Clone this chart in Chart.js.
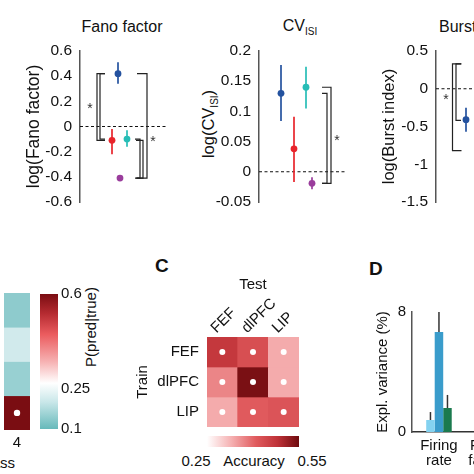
<!DOCTYPE html>
<html>
<head>
<meta charset="utf-8">
<script src="https://cdn.jsdelivr.net/npm/chart.js@4.4.1/dist/chart.umd.min.js"></script>
<style>
html, body { margin: 0; padding: 0; width: 474px; height: 474px; overflow: hidden; background: #fff; }
body { position: relative; font-family: "Liberation Sans", Arial, sans-serif; color: #111; }
canvas { position: absolute; }
.txt { position: absolute; white-space: nowrap; line-height: 1; transform: translate(-50%, -50%); }
.rot { transform: translate(-50%, -50%) rotate(-90deg); }
.panel { position: absolute; font-weight: bold; font-size: 19px; line-height: 1; }
sub { font-size: 10px; vertical-align: -4px; }
</style>
</head>
<body>

<div class="txt" style="left:122px;top:27px;font-size:16px">Fano factor</div>
<div class="txt" style="left:300px;top:27px;font-size:16px">CV<sub>ISI</sub></div>
<div class="txt" style="left:439px;top:27px;font-size:16px;transform:translate(0,-50%)">Burst index</div>
<div class="txt rot" style="left:210px;top:124px;font-size:16.5px">log(CV<sub>ISI</sub>)</div>

<div class="txt rot" style="left:90px;top:327px;font-size:15px">P(pred|true)</div>
<div class="txt" style="left:15px;top:462px;font-size:15px;transform:translate(-100%,-50%)">Predicted class</div>

<div class="panel" style="left:155px;top:256px">C</div>
<div class="txt" style="left:196px;top:460px;font-size:15px">0.25</div>
<div class="txt" style="left:254px;top:460px;font-size:15px">Accuracy</div>
<div class="txt" style="left:312px;top:460px;font-size:15px">0.55</div>

<div class="panel" style="left:369px;top:259px">D</div>

<canvas id="fano" width="180" height="187" style="left:0;top:33px"></canvas>
<canvas id="cv" width="180" height="187" style="left:180px;top:33px"></canvas>
<canvas id="burst" width="180" height="187" style="left:356px;top:33px"></canvas>
<canvas id="classMap" width="40" height="191" style="left:0;top:283px"></canvas>
<canvas id="probBar" width="100" height="191" style="left:30px;top:282px"></canvas>
<canvas id="accMap" width="220" height="200" style="left:125px;top:270px"></canvas>
<canvas id="accBar" width="110" height="22" style="left:200px;top:430px"></canvas>
<canvas id="variance" width="180" height="184" style="left:350px;top:290px"></canvas>

<script>
// point groups: blue, red, cyan, purple
const groupColors = ['#24529f', '#e8242b', '#27bdb6', '#9a3d9c'];

// Fano factor panel
const fanoX = [3.8, 3.2, 4.7, 4.0];
const fanoMean = [0.42, -0.11, -0.10, -0.41];
const fanoLow = [0.34, -0.22, -0.16, -0.42];
const fanoHigh = [0.51, -0.02, -0.03, -0.40];
const fanoBrackets = [[1.7, 0.42, -0.11, 0.8], [2.0, 0.42, -0.10, 0.5], [6.7, 0.42, -0.41, -1.0], [6.3, -0.11, -0.41, -0.7], [6.0, -0.10, -0.41, -0.5]];
const fanoStars = [[1.0, 0.16], [7.3, -0.10]];

// CV ISI panel
const cvX = [2.2, 3.5, 4.7, 5.3];
const cvMean = [0.13, 0.038, 0.14, -0.019];
const cvLow = [0.084, -0.017, 0.105, -0.029];
const cvHigh = [0.177, 0.091, 0.174, -0.009];
const cvBrackets = [[7.2, 0.14, -0.019, -0.9], [6.8, 0.13, -0.019, -0.5]];
const cvStars = [[7.8, 0.055]];

// Burst index panel (only first group visible)
const burstX = [3.0];
const burstMean = [-0.41];
const burstLow = [-0.57];
const burstHigh = [-0.25];
const burstBrackets = [[1.65, 0.33, -0.82, 0.9], [2.0, 0.33, -0.42, 0.5]];
const burstStars = [[1.0, -0.105]];

// B: confusion column (rows top to bottom)
const classLabels = ['4'];
const classProb = [0.14, 0.21, 0.15, 0.6];
const classSig = [false, false, false, true];
const probTicks = [0.1, 0.25, 0.6];
const probStops = [[0.1, '#66b9ba'], [0.2, '#c9e7e9'], [0.27, '#ffffff'], [0.35, '#f6b1b2'], [0.45, '#eb5c5f'], [0.53, '#b42a30'], [0.6, '#7a0d12']];

// C: cross-area decoding (train rows x test cols)
const areas = ['FEF', 'dlPFC', 'LIP'];
const accuracy = [
    [0.47, 0.43, 0.335],
    [0.37, 0.54, 0.335],
    [0.335, 0.41, 0.42]
];
const accStops = [[0.25, '#ffffff'], [0.33, '#f5b0b1'], [0.41, '#e05a5d'], [0.48, '#bf3238'], [0.55, '#6e0a0e']];

// D: explained variance
const varCategories = [['Firing', 'rate'], ['Fano', 'factor']];
const varColors = ['#84d2f0', '#3a9ccb', '#1b7a4e'];
const varMeans = [[0.8], [6.67], [1.6]];
const varErr = [[0.53], [1.33], [0.87]];

Chart.defaults.font.family = "'Liberation Sans', Arial, sans-serif";
Chart.defaults.font.size = 15;
Chart.defaults.color = '#111';
Chart.defaults.animation = false;
Chart.defaults.plugins.legend.display = false;
Chart.defaults.plugins.tooltip.enabled = false;

function hexRgb(h) {
    const n = parseInt(h.slice(1), 16);
    return [n >> 16, (n >> 8) & 255, n & 255];
}

function cmap(stops, v) {
    if (v <= stops[0][0]) return stops[0][1];
    for (let i = 1; i < stops.length; i++) {
        if (v <= stops[i][0]) {
            const [v0, c0] = stops[i - 1];
            const [v1, c1] = stops[i];
            const t = (v - v0) / (v1 - v0);
            const a = hexRgb(c0), b = hexRgb(c1);
            return 'rgb(' + a.map((x, k) => Math.round(x + (b[k] - x) * t)).join(',') + ')';
        }
    }
    return stops[stops.length - 1][1];
}

function barGradient(stops, axis) {
    return (c) => {
        const chart = c.chart;
        if (!chart.chartArea) return null;
        const s = chart.scales[axis];
        const v0 = stops[0][0], v1 = stops[stops.length - 1][0];
        const p0 = s.getPixelForValue(v0), p1 = s.getPixelForValue(v1);
        const g = axis === 'y'
            ? chart.ctx.createLinearGradient(0, p0, 0, p1)
            : chart.ctx.createLinearGradient(p0, 0, p1, 0);
        stops.forEach(([v, col]) => g.addColorStop((v - v0) / (v1 - v0), col));
        return g;
    };
}

const tickText = (v) => String(+Number(v).toFixed(3));
const noGrid = {display: false, drawTicks: false};

// dashed zero line, error bars, significance brackets
const markPlugin = {
    id: 'marks',
    beforeDatasetsDraw(chart, args, opts) {
        const ctx = chart.ctx;
        const x = chart.scales.x, y = chart.scales.y;
        ctx.save();
        if (opts.zero) {
            ctx.setLineDash([3, 2.5]);
            ctx.strokeStyle = '#111';
            ctx.lineWidth = 1.1;
            ctx.beginPath();
            ctx.moveTo(x.getPixelForValue(opts.zero[0]), y.getPixelForValue(0));
            ctx.lineTo(x.getPixelForValue(opts.zero[1]), y.getPixelForValue(0));
            ctx.stroke();
            ctx.setLineDash([]);
        }
        chart.data.datasets.forEach((ds) => {
            if (ds.errLow === undefined) return;
            const pt = ds.data[0];
            ctx.strokeStyle = ds.borderColor;
            ctx.globalAlpha = 0.85;
            ctx.lineWidth = 2;
            ctx.beginPath();
            ctx.moveTo(x.getPixelForValue(pt.x), y.getPixelForValue(ds.errLow));
            ctx.lineTo(x.getPixelForValue(pt.x), y.getPixelForValue(ds.errHigh));
            ctx.stroke();
            ctx.globalAlpha = 1;
        });
        ctx.restore();
    },
    afterDatasetsDraw(chart, args, opts) {
        const ctx = chart.ctx;
        const x = chart.scales.x, y = chart.scales.y;
        ctx.save();
        chart.data.datasets.forEach((ds, i) => {
            if (!ds.errs) return;
            const meta = chart.getDatasetMeta(i);
            ctx.strokeStyle = '#333';
            ctx.lineWidth = 1.5;
            meta.data.forEach((bar, j) => {
                const top = y.getPixelForValue(ds.data[j].y + ds.errs[j]);
                ctx.beginPath();
                ctx.moveTo(bar.x, bar.y);
                ctx.lineTo(bar.x, top);
                ctx.stroke();
            });
        });
        ctx.strokeStyle = '#222';
        ctx.lineWidth = 1.2;
        (opts.brackets || []).forEach(([bx, y1, y2, tick]) => {
            const px = x.getPixelForValue(bx);
            const pt = x.getPixelForValue(bx + tick);
            ctx.beginPath();
            ctx.moveTo(pt, y.getPixelForValue(y1));
            ctx.lineTo(px, y.getPixelForValue(y1));
            ctx.lineTo(px, y.getPixelForValue(y2));
            ctx.lineTo(pt, y.getPixelForValue(y2));
            ctx.stroke();
        });
        ctx.fillStyle = '#333';
        ctx.font = "14px 'Liberation Sans', Arial, sans-serif";
        ctx.textAlign = 'center';
        ctx.textBaseline = 'middle';
        (opts.stars || []).forEach(([sx, sy]) => {
            ctx.fillText('*', x.getPixelForValue(sx), y.getPixelForValue(sy) + 3);
        });
        ctx.restore();
    }
};

function dotDatasets(xs, means, lows, highs) {
    return means.map((m, i) => ({
        data: [{x: xs[i], y: m}],
        backgroundColor: groupColors[i],
        borderColor: groupColors[i],
        pointRadius: 3.4,
        pointBorderWidth: 0,
        errLow: lows[i],
        errHigh: highs[i]
    }));
}

function dotChart(id, datasets, yRange, yTitle, titleSize, marks, pad, yWidth) {
    return new Chart(document.getElementById(id), {
        type: 'scatter',
        data: {datasets: datasets},
        plugins: [markPlugin],
        options: {
            responsive: false,
            layout: {padding: pad},
            plugins: {marks: marks},
            scales: {
                x: {type: 'linear', min: 0, max: 9, display: false},
                y: {
                    min: yRange[0], max: yRange[1],
                    afterFit: (s) => { s.width = yWidth; },
                    grid: noGrid,
                    border: {display: true, color: '#555', width: 1.5},
                    ticks: {stepSize: yRange[2], padding: 8, font: {size: 15.5}, callback: tickText},
                    title: {display: !!yTitle, text: yTitle, font: {size: titleSize}, padding: {top: 4, bottom: 4}}
                }
            }
        }
    });
}

dotChart('fano', dotDatasets(fanoX, fanoMean, fanoLow, fanoHigh), [-0.6, 0.6, 0.2], 'log(Fano factor)', 17.5,
    {zero: [0, 8.8], brackets: fanoBrackets, stars: fanoStars}, {left: 20, top: 18, right: 10, bottom: 18}, 60);

dotChart('cv', dotDatasets(cvX, cvMean, cvLow, cvHigh), [-0.05, 0.2, 0.05], '', 16,
    {zero: [0, 8.6], brackets: cvBrackets, stars: cvStars}, {left: 30, top: 18, right: 11, bottom: 18}, 49);

dotChart('burst', dotDatasets(burstX, burstMean, burstLow, burstHigh), [-1.5, 0.5, 0.5], 'log(Burst index)', 16.5,
    {zero: [0, 20], brackets: burstBrackets, stars: burstStars}, {left: 20, top: 18, right: 10, bottom: 18}, 60);

// B: last column of the confusion matrix
new Chart(document.getElementById('classMap'), {
    type: 'bar',
    data: {
        labels: classLabels,
        datasets: classProb.map((p, r) => ({
            data: [[3 - r, 4 - r]],
            backgroundColor: cmap(probStops, p),
            borderWidth: 0,
            grouped: false,
            categoryPercentage: 1,
            barPercentage: 1
        })).concat([{
            type: 'line',
            order: -1,
            showLine: false,
            data: classSig.map((s, r) => s ? {x: classLabels[0], y: 3.5 - r} : null).filter(Boolean),
            pointRadius: 3.2,
            pointBackgroundColor: '#fff',
            pointBorderWidth: 0
        }])
    },
    options: {
        responsive: false,
        layout: {padding: {left: 0, top: 10, right: 10, bottom: 14}},
        scales: {
            x: {
                grid: noGrid, border: {display: false},
                afterFit: (s) => { s.height = 30; },
                ticks: {padding: 4, font: {size: 15}}
            },
            y: {min: 0, max: 4, display: false}
        }
    }
});

// B: colour bar
new Chart(document.getElementById('probBar'), {
    type: 'bar',
    data: {
        labels: [''],
        datasets: [{
            data: [[probStops[0][0], probStops[probStops.length - 1][0]]],
            backgroundColor: barGradient(probStops, 'y'),
            borderWidth: 0,
            categoryPercentage: 1,
            barPercentage: 1
        }]
    },
    options: {
        responsive: false,
        layout: {padding: {left: 10, top: 12, right: 2, bottom: 44}},
        scales: {
            x: {display: false},
            y: {
                position: 'right',
                min: 0.1, max: 0.6,
                afterBuildTicks: (s) => { s.ticks = probTicks.map((v) => ({value: v})); },
                afterFit: (s) => { s.width = 70; },
                grid: noGrid, border: {display: false},
                ticks: {padding: 3, font: {size: 15}, callback: tickText}
            }
        }
    }
});

// C: train/test accuracy matrix
const accDots = [];
accuracy.forEach((row, r) => row.forEach((v, c) => accDots.push({x: areas[c], y: 2.5 - r})));

new Chart(document.getElementById('accMap'), {
    type: 'bar',
    data: {
        labels: areas,
        datasets: accuracy.map((row, r) => ({
            data: row.map(() => [2 - r, 3 - r]),
            backgroundColor: row.map((v) => cmap(accStops, v)),
            borderWidth: 0,
            grouped: false,
            categoryPercentage: 1,
            barPercentage: 1
        })).concat([{
            type: 'line',
            order: -1,
            showLine: false,
            data: accDots,
            pointRadius: 3,
            pointBackgroundColor: '#fff',
            pointBorderWidth: 0
        }])
    },
    options: {
        responsive: false,
        layout: {padding: {left: 5, top: 2, right: 46, bottom: 43}},
        scales: {
            x: {
                position: 'top',
                grid: noGrid, border: {display: false},
                afterFit: (s) => { s.height = 65; },
                ticks: {minRotation: 45, maxRotation: 45, autoSkip: false, padding: 0, labelOffset: 4, font: {size: 15}},
                title: {display: true, text: 'Test', font: {size: 15}, padding: {top: 4, bottom: 4}}
            },
            y: {
                min: 0, max: 3,
                afterBuildTicks: (s) => { s.ticks = [2.5, 1.5, 0.5].map((v) => ({value: v})); },
                afterFit: (s) => { s.width = 77; },
                grid: noGrid, border: {display: false},
                ticks: {padding: 8, font: {size: 15}, callback: (v) => areas[Math.round(2.5 - v)]},
                title: {display: true, text: 'Train', font: {size: 15}, padding: {top: 4, bottom: 4}}
            }
        }
    }
});

// C: colour bar
new Chart(document.getElementById('accBar'), {
    type: 'bar',
    data: {
        labels: [''],
        datasets: [{
            data: [[accStops[0][0], accStops[accStops.length - 1][0]]],
            backgroundColor: barGradient(accStops, 'x'),
            borderWidth: 0,
            categoryPercentage: 1,
            barPercentage: 1
        }]
    },
    options: {
        responsive: false,
        indexAxis: 'y',
        layout: {padding: {left: 7, top: 6, right: 11, bottom: 5}},
        scales: {
            x: {display: false, min: 0.25, max: 0.55},
            y: {display: false}
        }
    }
});

// D: explained variance bars
new Chart(document.getElementById('variance'), {
    type: 'bar',
    data: {
        datasets: varColors.map((col, k) => ({
            data: varMeans[k].map((v, j) => ({x: j + 1, y: v})),
            backgroundColor: col,
            borderWidth: 0,
            categoryPercentage: 0.53,
            barPercentage: 1,
            errs: varErr[k]
        }))
    },
    plugins: [markPlugin],
    options: {
        responsive: false,
        layout: {padding: {left: 20, top: 22, right: 14, bottom: 2}},
        scales: {
            x: {
                type: 'linear', min: 0.44, max: 2.6, offset: false,
                afterBuildTicks: (s) => { s.ticks = varCategories.map((c, i) => ({value: i + 1})); },
                afterFit: (s) => { s.height = 40; },
                grid: {display: false, drawTicks: false, offset: false},
                border: {display: true, color: '#333', width: 1.5},
                ticks: {padding: 7, font: {size: 15, lineHeight: 0.95}, callback: (v) => varCategories[v - 1]}
            },
            y: {
                min: 0, max: 8,
                afterFit: (s) => { s.width = 42; },
                grid: noGrid,
                border: {display: true, color: '#555', width: 1.5},
                ticks: {stepSize: 8, padding: 6, font: {size: 15}},
                title: {display: true, text: 'Expl. variance (%)', font: {size: 15}, padding: {top: 4, bottom: 4}}
            }
        }
    }
});
</script>
</body>
</html>
